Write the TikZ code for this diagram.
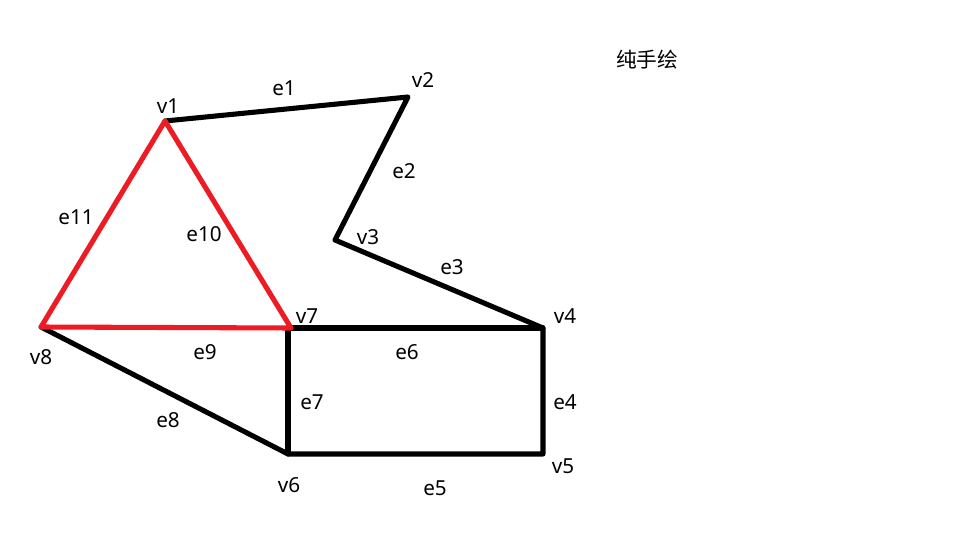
\documentclass[tikz,border=0pt]{standalone}
\usepackage{fontspec}
\setmainfont{Noto Sans}
\newfontfamily\cjk{Noto Sans CJK SC}
\definecolor{pred}{RGB}{237,28,36}
\begin{document}
\begin{tikzpicture}[x=0.75pt,y=-0.75pt,
  blk/.style={line width=3.8pt,black,line join=round,line cap=round},
  redl/.style={line width=3.8pt,pred,line join=round,line cap=round},
  lbl/.style={font=\fontsize{15.5}{18}\selectfont,inner sep=0pt}]
\useasboundingbox (0,0) rectangle (957,560);
\fill[white] (0,0) rectangle (957,560);
\coordinate (v1) at (165,121);
\coordinate (v2) at (408,97);
\coordinate (v3) at (335,240);
\coordinate (v4) at (543,328);
\coordinate (v5) at (543,454);
\coordinate (v6) at (288,454);
\coordinate (v7) at (291,328);
\coordinate (v8) at (41,327);
\coordinate (v7b) at (288,328);
\draw[blk] (v1) -- (v2) -- (v3) -- (v4) -- (v5) -- (v6) -- (v8);
\draw[blk] (v7b) -- (v4);
\draw[blk] (v7b) -- (v6);
\draw[redl] (v1) -- (v7) -- (v8) -- cycle;
\node[lbl] (l1) at (168,106) {v1};
\node[lbl] (l2) at (423,80) {v2};
\node[lbl] (l3) at (368,237) {v3};
\node[lbl] (l4) at (565,316) {v4};
\node[lbl] (l5) at (563,466) {v5};
\node[lbl] (l6) at (289,485) {v6};
\node[lbl] (l7) at (307,316) {v7};
\node[lbl] (l8) at (41,357) {v8};
\node[lbl] (m1) at (284,88) {e1};
\node[lbl] (m2) at (404,171) {e2};
\node[lbl] (m3) at (452,267) {e3};
\node[lbl] (m4) at (565,402) {e4};
\node[lbl] (m5) at (435,488) {e5};
\node[lbl] (m6) at (407,352) {e6};
\node[lbl] (m7) at (312,402) {e7};
\node[lbl] (m8) at (168,420) {e8};
\node[lbl] (m9) at (205,352) {e9};
\node[lbl] (m10) at (204,234) {e10};
\node[lbl] (m11) at (76,217) {e11};
\node[lbl,font=\cjk\fontsize{15.5}{18}\selectfont] (t) at (647,60) {纯手绘};
\end{tikzpicture}
\end{document}
